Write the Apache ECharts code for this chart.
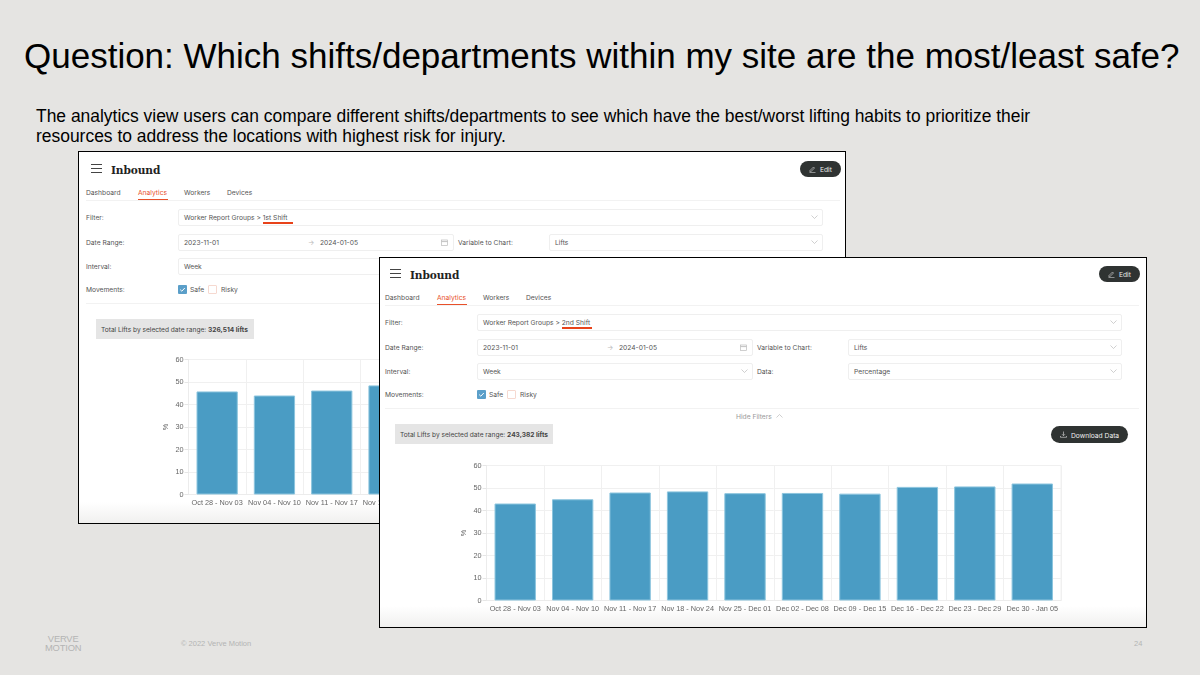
<!DOCTYPE html>
<html lang="en">

<head>
    <meta charset="UTF-8">
    <title>Which shifts/departments within my site are the most/least safe?</title>
    <script src="https://cdn.jsdelivr.net/npm/echarts@6/dist/echarts.min.js"></script>
    <style>
        html, body { margin: 0; padding: 0; }
        #slide { position: relative; width: 1200px; height: 675px; overflow: hidden; background: #e5e4e2; font-family: "Liberation Sans", sans-serif; }
        #slide div { position: absolute; box-sizing: border-box; white-space: nowrap; }
        #title { left: 24px; top: 36px; font-size: 35px; line-height: 40px; color: #000; }
        #subtitle { left: 36px; top: 106px; font-size: 17.45px; line-height: 20px; letter-spacing: 0; color: #000; }
        .panel { background: #fff; border: 1px solid #000; overflow: hidden; }
        .fade { left: 0; right: 0; height: 22px; bottom: 0; background: linear-gradient(to bottom, rgba(229,228,226,0), rgba(229,228,226,.55)); }
        .t { font-family: Inter, sans-serif; font-size: 6.7px; line-height: 10px; color: #555; transform: translateY(-4.4px); }
        .box { background: #fff; border: 1px solid #efefef; border-radius: 2px; }
        .line { background: #f2f2f2; height: 1px; }
        .red { background: #e8431a; height: 2px; }
        .chart { z-index: 1; }
        .btn { background: #2f3332; border-radius: 9px; }
        .foot { color: #b4b4b4; }
    </style>
</head>

<body>
    <div id="slide">
        <div id="title">Question: Which shifts/departments within my site are the most/least safe?</div>
        <div id="subtitle">The analytics view users can compare different shifts/departments to see which have the best/worst lifting habits to prioritize their<br>resources to address the locations with highest risk for injury.</div>

        <div id="panel1" class="panel" style="left:78px;top:151px;width:768px;height:373px;z-index:1"></div>
        <div id="panel2" class="panel" style="left:379px;top:257px;width:768px;height:371px;z-index:2"></div>

        <div class="foot" style="left:45px;top:635px;font-size:9.4px;line-height:8.5px;letter-spacing:-.2px;text-align:center">VERVE<br>MOTION</div>
        <div class="foot" style="left:181px;top:639px;font-size:7.5px;line-height:9px">© 2022 Verve Motion</div>
        <div class="foot" style="left:1134px;top:639px;font-size:7.5px;line-height:9px">24</div>
    </div>

    <script>
        // values
        var categories = ["Oct 28 - Nov 03", "Nov 04 - Nov 10", "Nov 11 - Nov 17", "Nov 18 - Nov 24", "Nov 25 - Dec 01",
            "Dec 02 - Dec 08", "Dec 09 - Dec 15", "Dec 16 - Dec 22", "Dec 23 - Dec 29", "Dec 30 - Jan 05"];
        // only the first four bars of 1st shift can be seen, the rest sit behind the other window
        var shift1Values = [45.8, 44, 46.2, 48.5, null, null, null, null, null, null];
        var shift2Values = [43.1, 45, 48, 48.5, 47.7, 47.8, 47.5, 50.5, 50.7, 52];

        var chevron = '<svg width="7" height="4" viewBox="0 0 7 4" style="display:block"><path d="M.5 .5L3.5 3.5L6.5 .5" fill="none" stroke="#bbb" stroke-width=".7"/></svg>';
        var calendar = '<svg width="7" height="7" viewBox="0 0 7 7" style="display:block"><rect x=".5" y="1" width="6" height="5.5" fill="none" stroke="#bbb" stroke-width=".7"/><path d="M.5 2.6H6.5" stroke="#bbb" stroke-width=".9"/></svg>';
        var pencil = '<svg width="7" height="7" viewBox="0 0 7 7" style="display:block"><path d="M.5 5L4.5 1L5.5 2L1.5 6ZM.5 6.6H6.5" fill="none" stroke="#ddd" stroke-width=".6"/></svg>';
        var download = '<svg width="7" height="7" viewBox="0 0 7 7" style="display:block"><path d="M3.5 .5V4.5M2 3.2L3.5 4.7L5 3.2M.5 5V6.3H6.5V5" fill="none" stroke="#ddd" stroke-width=".6"/></svg>';

        function add(panel, x, y, w, h, cls, html, css) {
            // x and y are slide coordinates, the panel has a 1px border
            var el = document.createElement("div");
            el.className = cls;
            el.style.left = (x - panel.offsetLeft - 1) + "px";
            el.style.top = (y - panel.offsetTop - 1) + "px";
            if (w) el.style.width = w + "px";
            if (h) el.style.height = h + "px";
            if (html) el.innerHTML = html;
            if (css) el.style.cssText += css;
            panel.appendChild(el);
            return el;
        }

        // the app screen, dx and dy move it from the 2nd shift position
        function buildScreen(panel, dx, dy, shift, shiftX, total) {
            function text(x, y, s, css) { return add(panel, x + dx, y + dy, 0, 0, "t", s, css); }
            function icon(x, y, svg) { return add(panel, x + dx, y + dy, 0, 0, "", svg); }

            [269, 273, 277].forEach(function (y) {
                add(panel, 390 + dx, y + dy, 11, 1, "", "", "background:#444");
            });
            text(410, 274, "Inbound", "font:bold 10.6px/10px 'DejaVu Serif',serif;letter-spacing:-.1px;color:#222");
            add(panel, 1099 + dx, 266 + dy, 41, 16, "btn");
            icon(1108, 270.5, pencil);
            text(1119, 274, "Edit", "color:#eee");

            text(385, 297, "Dashboard");
            text(437, 297, "Analytics", "color:#e8502a");
            text(483, 297, "Workers");
            text(526, 297, "Devices");
            add(panel, 385 + dx, 305 + dy, 754, 1, "line");
            add(panel, 437 + dx, 304 + dy, 30, 1, "", "", "background:#e8502a");

            text(385, 322, "Filter:");
            add(panel, 477 + dx, 314 + dy, 645, 17, "box");
            text(483, 322, "Worker Report Groups &gt; " + shift);
            add(panel, shiftX + dx, 327 + dy, 30, 2, "red");
            icon(1110, 320, chevron);

            text(385, 347, "Date Range:");
            add(panel, 477 + dx, 339 + dy, 276, 17, "box");
            text(483, 347, "2023-11-01");
            text(607, 347, "→", "color:#bbb");
            text(619, 347, "2024-01-05");
            icon(740, 343.5, calendar);
            text(757, 347, "Variable to Chart:");
            add(panel, 848 + dx, 339 + dy, 274, 17, "box");
            text(854, 347, "Lifts");
            icon(1110, 345, chevron);

            text(385, 371, "Interval:");
            add(panel, 477 + dx, 363 + dy, 276, 17, "box");
            text(483, 371, "Week");
            icon(741, 369, chevron);
            text(757, 371, "Data:");
            add(panel, 848 + dx, 363 + dy, 274, 17, "box");
            text(854, 371, "Percentage");
            icon(1110, 369, chevron);

            text(385, 394, "Movements:");
            add(panel, 477 + dx, 389.5 + dy, 9, 9, "", '<svg width="9" height="9" viewBox="0 0 9 9" style="display:block"><path d="M2.2 4.6L3.8 6.2L6.8 3" fill="none" stroke="#fff"/></svg>', "background:#5b9fc9;border-radius:1px");
            text(489, 394, "Safe");
            add(panel, 507 + dx, 389.5 + dy, 9, 9, "", "", "border:1px solid #f6d9d0;border-radius:1px");
            text(520, 394, "Risky");

            add(panel, 385 + dx, 408 + dy, 754, 1, "line");
            text(736, 416, "Hide Filters", "color:#999");
            icon(776, 414, chevron.replace("M.5 .5L3.5 3.5L6.5 .5", "M.5 3.5L3.5 .5L6.5 3.5"));

            add(panel, 395 + dx, 424 + dy, 158, 20, "", "", "background:#e5e5e5");
            text(400, 434, "Total Lifts by selected date range: <b>" + total + " lifts</b>", "color:#444;font-size:6.6px");
            add(panel, 1051 + dx, 426 + dy, 77, 17, "btn");
            icon(1060, 431, download);
            text(1071, 434.5, "Download Data", "color:#eee");
        }

        function drawChart(panel, box, grid, values) {
            var el = add(panel, box[0], box[1], box[2], box[3], "chart");
            var chart = echarts.init(el, null, { renderer: "canvas" });
            var labelFont = { color: "#666", fontFamily: "Liberation Sans", fontSize: 7.3 };
            chart.setOption({
                animation: false,
                grid: {
                    left: grid[0] - box[0], top: grid[1] - box[1],
                    width: grid[2], height: grid[3],
                    show: true, borderColor: "#f0f0f0", borderWidth: 1
                },
                xAxis: {
                    type: "category",
                    data: categories,
                    axisLine: { lineStyle: { color: "#ececec" } },
                    axisTick: { length: 4, lineStyle: { color: "#e6e6e6" } },
                    axisLabel: Object.assign({ interval: 0, margin: 5 }, labelFont),
                    splitLine: { show: true, interval: 0, lineStyle: { color: "#f0f0f0" } }
                },
                yAxis: {
                    type: "value",
                    min: 0,
                    max: 60,
                    interval: 10,
                    name: "%",
                    nameLocation: "middle",
                    nameGap: 19,
                    nameMoveOverlap: false,
                    nameRotate: 90,
                    nameTextStyle: labelFont,
                    axisLine: { show: true, lineStyle: { color: "#ececec" } },
                    axisTick: { show: true, length: 4, lineStyle: { color: "#e6e6e6" } },
                    axisLabel: Object.assign({ margin: 5 }, labelFont),
                    splitLine: { lineStyle: { color: "#f0f0f0" } }
                },
                series: [{
                    type: "bar",
                    data: values,
                    barWidth: "72%",
                    itemStyle: { color: "#4a9cc4", borderColor: "#8cc5de", borderWidth: 1 }
                }]
            });
        }

        var panel1 = document.getElementById("panel1");
        var panel2 = document.getElementById("panel2");

        buildScreen(panel1, -299, -105, "1st Shift", 562, "326,514");
        buildScreen(panel2, 0, 0, "2nd Shift", 562, "243,382");

        drawChart(panel1, [100, 345, 740, 170], [188.5, 359.5, 573, 135], shift1Values);
        drawChart(panel2, [400, 450, 740, 170], [486.5, 465.5, 574.5, 135], shift2Values);

        add(panel1, 79, 502, 766, 21, "fade");
        add(panel2, 380, 606, 766, 21, "fade");
    </script>
</body>

</html>
